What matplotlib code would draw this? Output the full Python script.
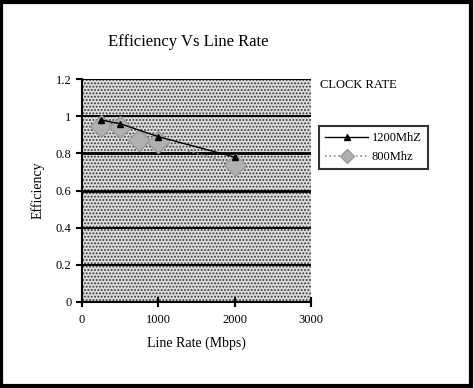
import matplotlib
matplotlib.use("Agg")
import matplotlib.pyplot as plt
from matplotlib.patches import Rectangle

plt.rcParams['font.family'] = ['Liberation Serif', 'DejaVu Serif']
plt.rcParams['hatch.linewidth'] = 0.9

x_1200 = [250, 500, 1000, 2000]
y_1200 = [0.98, 0.96, 0.89, 0.78]
x_800 = [250, 500, 750, 1000, 2000]
y_800 = [0.95, 0.94, 0.87, 0.86, 0.74]
xticks = [0, 1000, 2000, 3000]
yticks = [0, 0.2, 0.4, 0.6, 0.8, 1, 1.2]
ytick_labels = ['0', '0.2', '0.4', '0.6', '0.8', '1', '1.2']

fig = plt.figure(figsize=(4.74, 3.88), dpi=100)
ax = fig.add_axes([0.173, 0.222, 0.483, 0.574])

ax.set_facecolor('#dcdcdc')
ax.patch.set_hatch('.....')
ax.patch.set_edgecolor('#333333')

ax.set_xlim(0, 3000)
ax.set_ylim(0, 1.2)
ax.set_xticks(xticks)
ax.set_yticks(yticks)
ax.set_yticklabels(ytick_labels)

for yv in yticks[1:]:
    lw = 2.0 if yv in (0.6, 0.8) else 1.4
    ax.axhline(yv, color='black', lw=lw, zorder=1)

ax.plot(x_800, y_800, color='#888888', ls=':', lw=1.2, marker='D', markersize=11,
        markerfacecolor='#b0b0b0', markeredgecolor='#9a9a9a', label='800Mhz', zorder=3)
ax.plot(x_1200, y_1200, color='black', lw=1.0, marker='^', markersize=5,
        markerfacecolor='black', label='1200MhZ', zorder=4)

for s in ['top', 'right']:
    ax.spines[s].set_visible(False)
for s in ['left', 'bottom']:
    ax.spines[s].set_linewidth(1.5)
ax.tick_params(axis='both', direction='out', length=4, width=1.5, labelsize=9)
ax.tick_params(axis='x', direction='inout', length=7, pad=5)

h, l = ax.get_legend_handles_labels()
leg = fig.legend(h[::-1], l[::-1], loc='upper left', bbox_to_anchor=(0.66, 0.692),
                 frameon=True, fancybox=False, edgecolor='black', fontsize=9,
                 handlelength=3.4, borderpad=0.5, labelspacing=0.55, handletextpad=0.3)
leg.get_frame().set_linewidth(1.5)
leg.legend_handles[1].set_markersize(7)

fig.text(0.676, 0.772, 'CLOCK RATE', fontsize=9)
fig.text(0.397, 0.882, 'Efficiency Vs Line Rate', fontsize=12, ha='center')
ax.set_xlabel('Line Rate (Mbps)', fontsize=10, labelpad=8)
ax.set_ylabel('Efficiency', fontsize=10, labelpad=8)

fig.patches.append(Rectangle((0.003, 0.005), 0.991, 0.99, transform=fig.transFigure,
                             fill=False, edgecolor='black', lw=3))

fig.savefig('out.png', dpi=100)
